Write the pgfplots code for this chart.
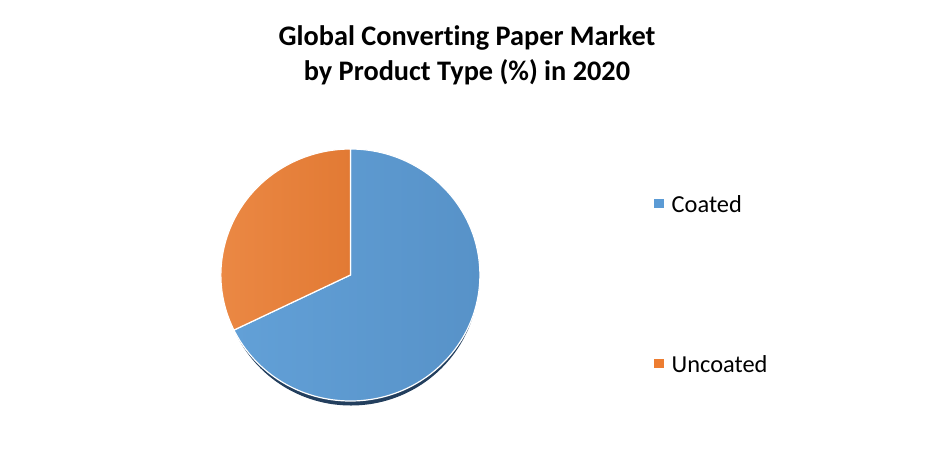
\documentclass[border=0pt]{standalone}
\usepackage{pgfplots}
\pgfplotsset{compat=1.18}
\usepackage{pgfplotstable}
\usepackage{fontspec}
\setmainfont{Carlito}[Ligatures={NoCommon}]

\definecolor{blueL}{RGB}{98,160,215}
\definecolor{blueR}{RGB}{87,146,200}
\definecolor{orangeL}{RGB}{236,138,70}
\definecolor{orangeR}{RGB}{226,122,52}
\definecolor{blueLeg}{RGB}{91,155,213}
\definecolor{orangeLeg}{RGB}{237,125,49}
\definecolor{shadow}{RGB}{35,63,94}

% market share by product type, %
\pgfplotstableread{
type value
Coated 67.8
Uncoated 32.2
}\sharetable

\begin{document}
\begin{tikzpicture}
\pgfplotstablegetelem{0}{value}\of\sharetable
\pgfmathsetmacro\coatedEnd{90-3.6*\pgfplotsretval}
\pgfplotstablegetelem{1}{value}\of\sharetable
\pgfmathsetmacro\uncoatedEnd{\coatedEnd-3.6*\pgfplotsretval}
\begin{axis}[
    width=940bp, height=448bp, scale only axis,
    xmin=0, xmax=940, ymin=0, ymax=448, y dir=reverse,
    axis lines=none, clip=false,
    legend image code/.code={\fill[#1] (0bp,-2bp) rectangle (9.5bp,7.5bp);},
    legend cell align=left,
    legend style={at={(axis cs:654,195)}, anchor=north west,
        draw=none, fill=none, inner sep=0pt, row sep=138bp, column sep=8bp,
        nodes={inner sep=0pt, text height=17bp, text depth=5bp,
            font=\fontsize{24.4bp}{29bp}\selectfont}},
]
\path (axis cs:0,0) -- (axis cs:940,448);
% shadow under the pie
\fill[shadow] (axis cs:351,279.5) ellipse[x radius=127.5bp, y radius=126bp];
% slices
\shade[left color=blueL, right color=blueR, draw=white, line width=1.2bp]
    (axis cs:350.4,275) -- ++(90:126bp)
    arc[start angle=90, end angle=\coatedEnd, x radius=129.5bp, y radius=126bp] -- cycle;
\shade[left color=orangeL, right color=orangeR, draw=white, line width=1.2bp]
    (axis cs:350.4,275) -- ++({129.5*cos(\coatedEnd)*1bp},{126*sin(\coatedEnd)*1bp})
    arc[start angle=\coatedEnd, end angle=\uncoatedEnd, x radius=129.5bp, y radius=126bp] -- cycle;
\addlegendimage{fill=blueLeg, draw=none}
\addlegendentry{Coated}
\addlegendimage{fill=orangeLeg, draw=none}
\addlegendentry{Uncoated}
\node[anchor=base, font=\fontsize{28.3bp}{35bp}\selectfont\bfseries, inner sep=0pt]
    at (axis cs:467,45.7) {Global Converting Paper Market};
\node[anchor=base, font=\fontsize{28.3bp}{35bp}\selectfont\bfseries, inner sep=0pt]
    at (axis cs:467,81) {by Product Type (\%) in 2020};
\end{axis}
\end{tikzpicture}
\end{document}
